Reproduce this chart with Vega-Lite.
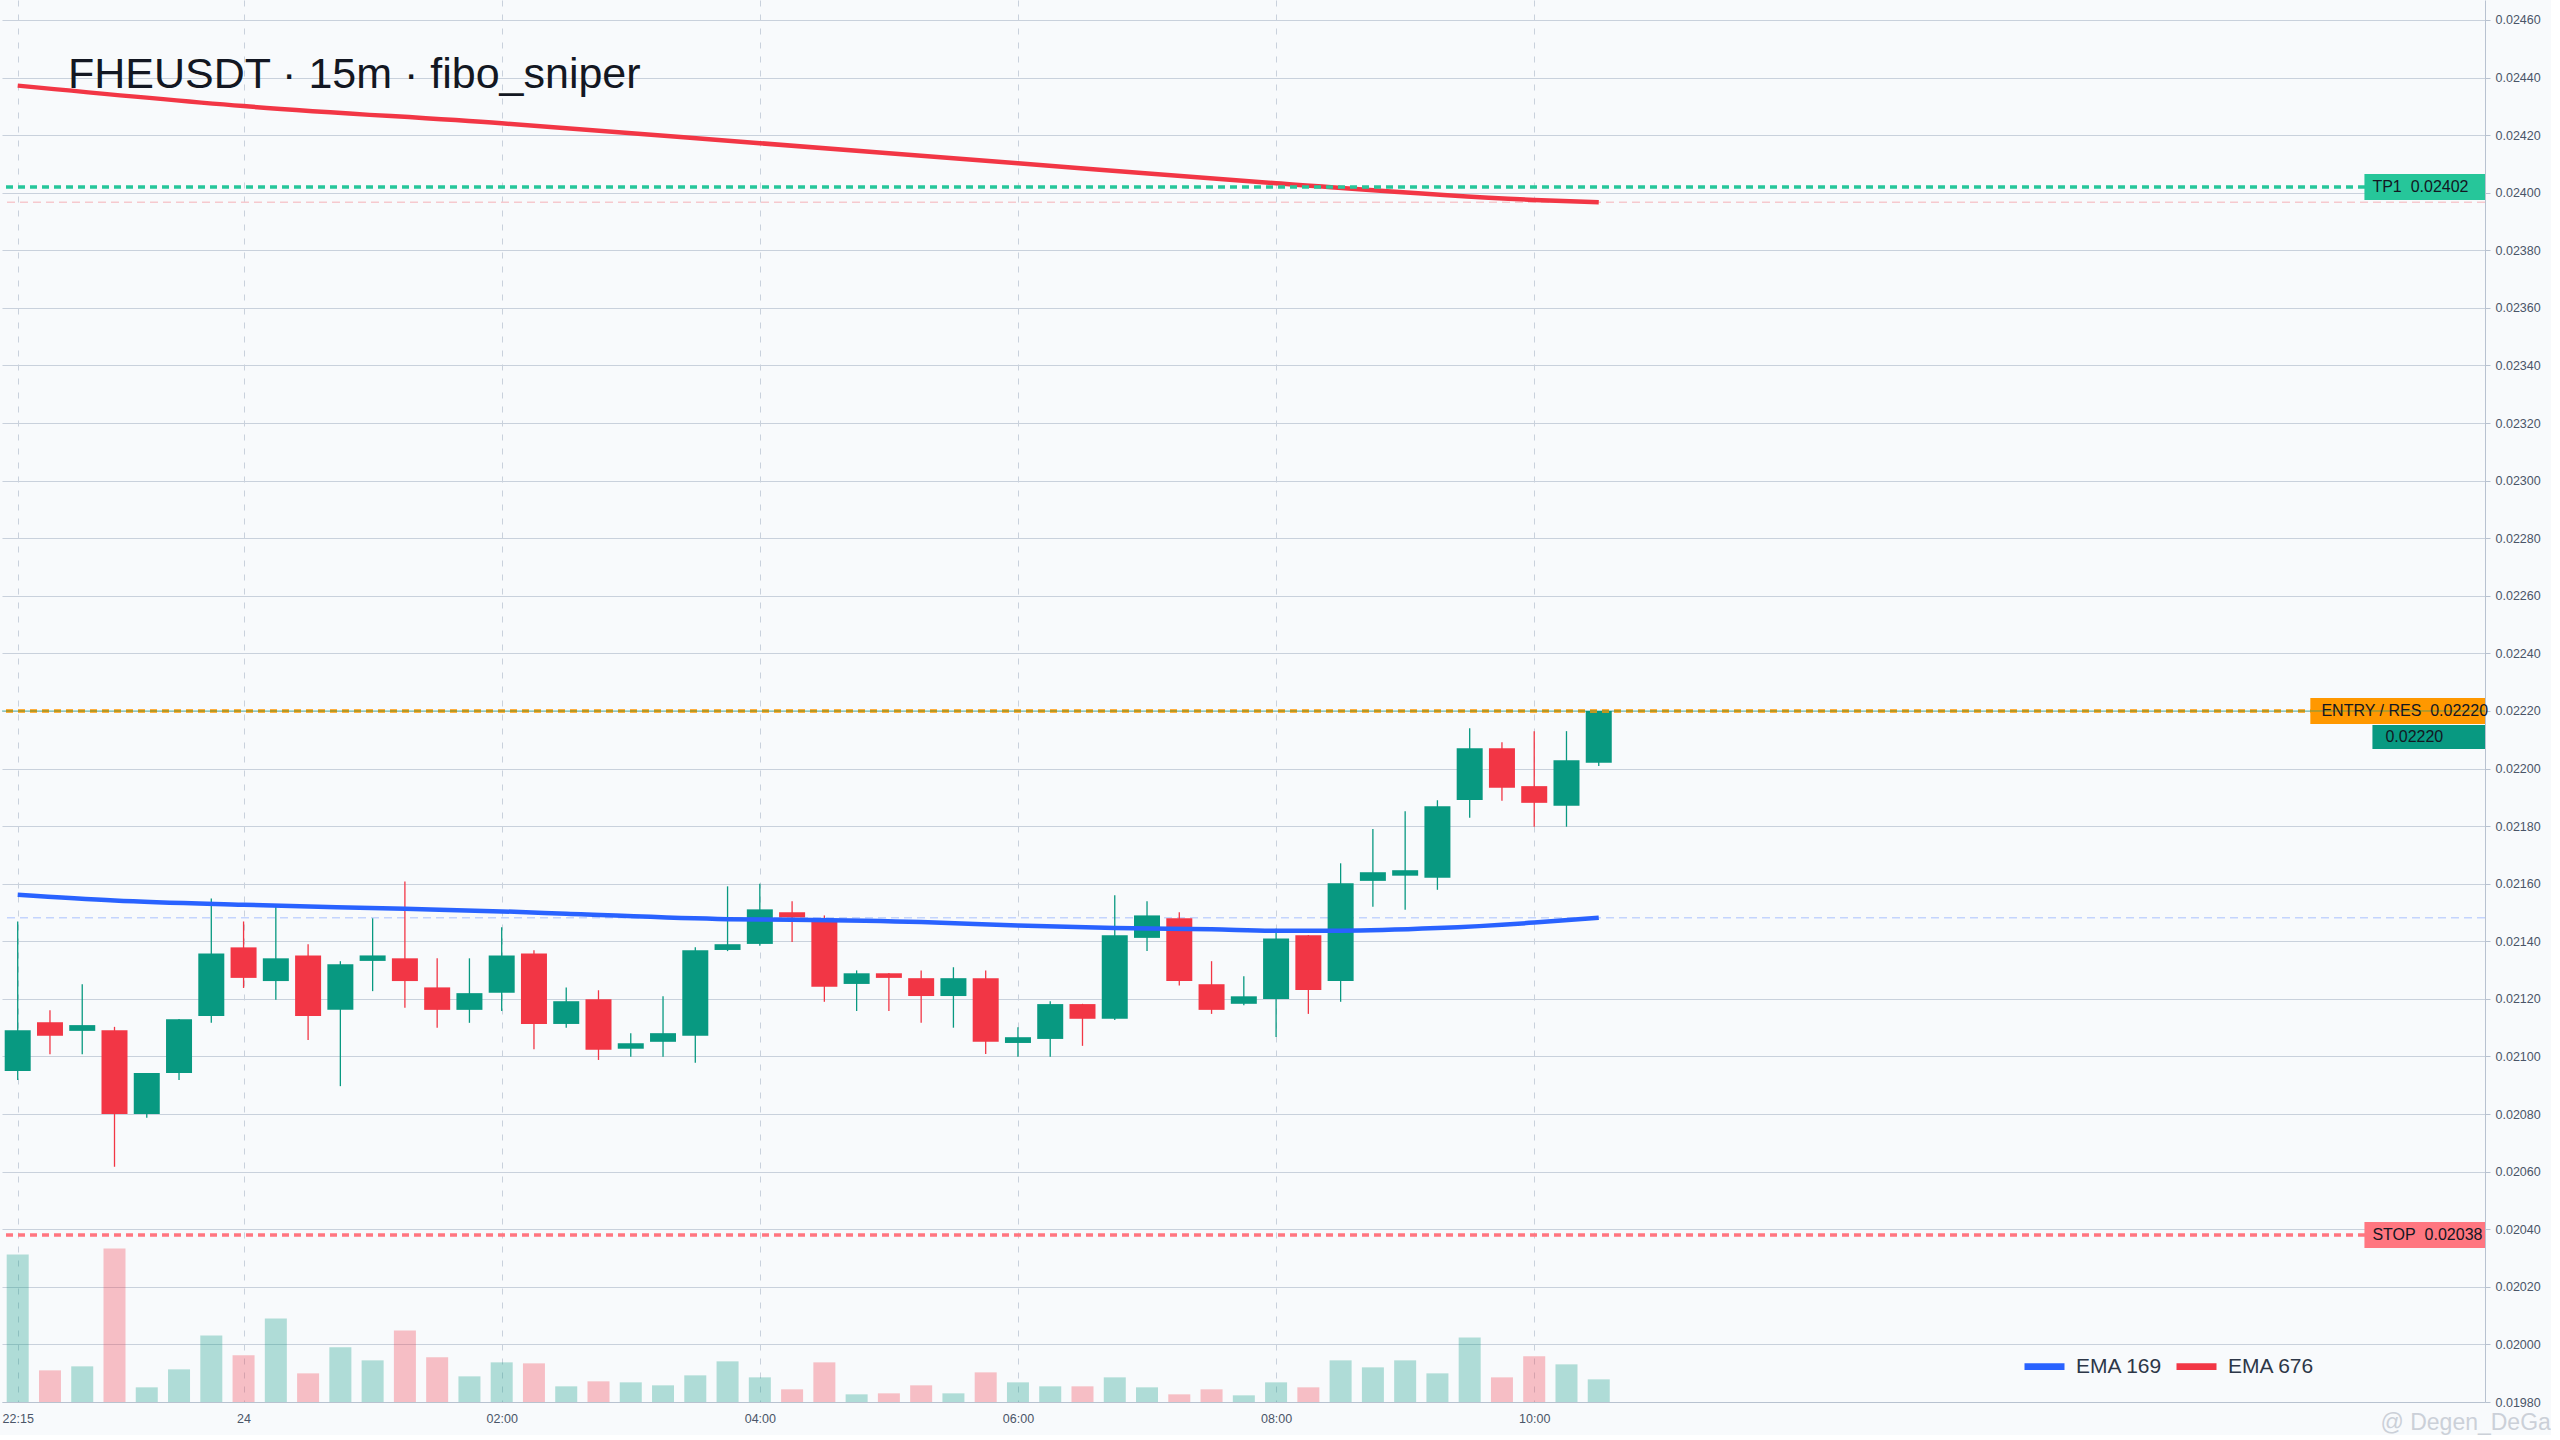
{
  "$schema": "https://vega.github.io/schema/vega-lite/v6.json",
  "width": 2483,
  "height": 1402,
  "padding": 0,
  "autosize": {"type": "pad"},
  "background": "#f8fafc",
  "config": {"view": {"stroke": null}, "font": "Liberation Sans"},
  "datasets": {
    "candles": [
      {"t": "2025-10-23T22:15:00Z", "o": 0.020950, "h": 0.021469, "l": 0.020918, "c": 0.021091, "v": 443},
      {"t": "2025-10-23T22:30:00Z", "o": 0.021119, "h": 0.021161, "l": 0.021008, "c": 0.021072, "v": 95},
      {"t": "2025-10-23T22:45:00Z", "o": 0.021089, "h": 0.021251, "l": 0.021008, "c": 0.021109, "v": 107},
      {"t": "2025-10-23T23:00:00Z", "o": 0.021091, "h": 0.021103, "l": 0.020617, "c": 0.020800, "v": 461},
      {"t": "2025-10-23T23:15:00Z", "o": 0.020800, "h": 0.020943, "l": 0.020787, "c": 0.020943, "v": 44},
      {"t": "2025-10-23T23:30:00Z", "o": 0.020943, "h": 0.021130, "l": 0.020918, "c": 0.021129, "v": 98},
      {"t": "2025-10-23T23:45:00Z", "o": 0.021141, "h": 0.021549, "l": 0.021117, "c": 0.021358, "v": 200},
      {"t": "2025-10-24T00:00:00Z", "o": 0.021379, "h": 0.021469, "l": 0.021238, "c": 0.021273, "v": 140},
      {"t": "2025-10-24T00:15:00Z", "o": 0.021262, "h": 0.021519, "l": 0.021197, "c": 0.021341, "v": 251},
      {"t": "2025-10-24T00:30:00Z", "o": 0.021351, "h": 0.021390, "l": 0.021057, "c": 0.021141, "v": 86},
      {"t": "2025-10-24T00:45:00Z", "o": 0.021162, "h": 0.021331, "l": 0.020897, "c": 0.021320, "v": 164},
      {"t": "2025-10-24T01:00:00Z", "o": 0.021332, "h": 0.021480, "l": 0.021227, "c": 0.021351, "v": 125},
      {"t": "2025-10-24T01:15:00Z", "o": 0.021341, "h": 0.021608, "l": 0.021169, "c": 0.021262, "v": 215},
      {"t": "2025-10-24T01:30:00Z", "o": 0.021240, "h": 0.021341, "l": 0.021100, "c": 0.021162, "v": 134},
      {"t": "2025-10-24T01:45:00Z", "o": 0.021162, "h": 0.021341, "l": 0.021117, "c": 0.021220, "v": 77},
      {"t": "2025-10-24T02:00:00Z", "o": 0.021221, "h": 0.021449, "l": 0.021158, "c": 0.021351, "v": 119},
      {"t": "2025-10-24T02:15:00Z", "o": 0.021358, "h": 0.021369, "l": 0.021025, "c": 0.021113, "v": 116},
      {"t": "2025-10-24T02:30:00Z", "o": 0.021113, "h": 0.021240, "l": 0.021100, "c": 0.021192, "v": 47},
      {"t": "2025-10-24T02:45:00Z", "o": 0.021199, "h": 0.021230, "l": 0.020988, "c": 0.021023, "v": 62},
      {"t": "2025-10-24T03:00:00Z", "o": 0.021027, "h": 0.021081, "l": 0.020999, "c": 0.021046, "v": 59},
      {"t": "2025-10-24T03:15:00Z", "o": 0.021051, "h": 0.021209, "l": 0.020999, "c": 0.021081, "v": 50},
      {"t": "2025-10-24T03:30:00Z", "o": 0.021072, "h": 0.021379, "l": 0.020978, "c": 0.021369, "v": 80},
      {"t": "2025-10-24T03:45:00Z", "o": 0.021370, "h": 0.021591, "l": 0.021366, "c": 0.021390, "v": 122},
      {"t": "2025-10-24T04:00:00Z", "o": 0.021391, "h": 0.021600, "l": 0.021385, "c": 0.021511, "v": 74},
      {"t": "2025-10-24T04:15:00Z", "o": 0.021501, "h": 0.021539, "l": 0.021398, "c": 0.021483, "v": 38},
      {"t": "2025-10-24T04:30:00Z", "o": 0.021473, "h": 0.021490, "l": 0.021190, "c": 0.021242, "v": 119},
      {"t": "2025-10-24T04:45:00Z", "o": 0.021252, "h": 0.021299, "l": 0.021158, "c": 0.021289, "v": 23},
      {"t": "2025-10-24T05:00:00Z", "o": 0.021289, "h": 0.021290, "l": 0.021158, "c": 0.021273, "v": 26},
      {"t": "2025-10-24T05:15:00Z", "o": 0.021272, "h": 0.021299, "l": 0.021117, "c": 0.021210, "v": 50},
      {"t": "2025-10-24T05:30:00Z", "o": 0.021210, "h": 0.021310, "l": 0.021100, "c": 0.021272, "v": 26},
      {"t": "2025-10-24T05:45:00Z", "o": 0.021272, "h": 0.021299, "l": 0.021009, "c": 0.021051, "v": 89},
      {"t": "2025-10-24T06:00:00Z", "o": 0.021047, "h": 0.021102, "l": 0.020999, "c": 0.021067, "v": 59},
      {"t": "2025-10-24T06:15:00Z", "o": 0.021061, "h": 0.021192, "l": 0.020999, "c": 0.021182, "v": 47},
      {"t": "2025-10-24T06:30:00Z", "o": 0.021182, "h": 0.021183, "l": 0.021037, "c": 0.021131, "v": 47},
      {"t": "2025-10-24T06:45:00Z", "o": 0.021131, "h": 0.021560, "l": 0.021127, "c": 0.021421, "v": 74},
      {"t": "2025-10-24T07:00:00Z", "o": 0.021412, "h": 0.021539, "l": 0.021366, "c": 0.021490, "v": 44},
      {"t": "2025-10-24T07:15:00Z", "o": 0.021480, "h": 0.021501, "l": 0.021247, "c": 0.021262, "v": 23},
      {"t": "2025-10-24T07:30:00Z", "o": 0.021251, "h": 0.021331, "l": 0.021148, "c": 0.021162, "v": 38},
      {"t": "2025-10-24T07:45:00Z", "o": 0.021183, "h": 0.021279, "l": 0.021178, "c": 0.021209, "v": 20},
      {"t": "2025-10-24T08:00:00Z", "o": 0.021200, "h": 0.021444, "l": 0.021068, "c": 0.021410, "v": 59},
      {"t": "2025-10-24T08:15:00Z", "o": 0.021421, "h": 0.021422, "l": 0.021148, "c": 0.021231, "v": 44},
      {"t": "2025-10-24T08:30:00Z", "o": 0.021262, "h": 0.021671, "l": 0.021190, "c": 0.021602, "v": 125},
      {"t": "2025-10-24T08:45:00Z", "o": 0.021610, "h": 0.021790, "l": 0.021520, "c": 0.021640, "v": 104},
      {"t": "2025-10-24T09:00:00Z", "o": 0.021628, "h": 0.021852, "l": 0.021510, "c": 0.021647, "v": 125},
      {"t": "2025-10-24T09:15:00Z", "o": 0.021621, "h": 0.021890, "l": 0.021579, "c": 0.021869, "v": 86},
      {"t": "2025-10-24T09:30:00Z", "o": 0.021891, "h": 0.022140, "l": 0.021829, "c": 0.022071, "v": 194},
      {"t": "2025-10-24T09:45:00Z", "o": 0.022071, "h": 0.022091, "l": 0.021888, "c": 0.021933, "v": 74},
      {"t": "2025-10-24T10:00:00Z", "o": 0.021939, "h": 0.022130, "l": 0.021798, "c": 0.021881, "v": 137},
      {"t": "2025-10-24T10:15:00Z", "o": 0.021871, "h": 0.022130, "l": 0.021798, "c": 0.022029, "v": 113},
      {"t": "2025-10-24T10:30:00Z", "o": 0.022020, "h": 0.022200, "l": 0.022009, "c": 0.022200, "v": 68}
    ],
    "ema": [
      {"t": "2025-10-23T22:15:00Z", "series": "EMA 169", "ema": 0.021562},
      {"t": "2025-10-23T23:00:00Z", "series": "EMA 169", "ema": 0.021542},
      {"t": "2025-10-24T00:00:00Z", "series": "EMA 169", "ema": 0.021527},
      {"t": "2025-10-24T01:15:00Z", "series": "EMA 169", "ema": 0.021513},
      {"t": "2025-10-24T02:00:00Z", "series": "EMA 169", "ema": 0.021504},
      {"t": "2025-10-24T02:30:00Z", "series": "EMA 169", "ema": 0.021496},
      {"t": "2025-10-24T03:45:00Z", "series": "EMA 169", "ema": 0.021477},
      {"t": "2025-10-24T04:15:00Z", "series": "EMA 169", "ema": 0.021475},
      {"t": "2025-10-24T05:15:00Z", "series": "EMA 169", "ema": 0.021467},
      {"t": "2025-10-24T06:00:00Z", "series": "EMA 169", "ema": 0.021455},
      {"t": "2025-10-24T06:45:00Z", "series": "EMA 169", "ema": 0.021446},
      {"t": "2025-10-24T07:30:00Z", "series": "EMA 169", "ema": 0.021442},
      {"t": "2025-10-24T08:00:00Z", "series": "EMA 169", "ema": 0.021437},
      {"t": "2025-10-24T08:30:00Z", "series": "EMA 169", "ema": 0.021437},
      {"t": "2025-10-24T09:15:00Z", "series": "EMA 169", "ema": 0.021446},
      {"t": "2025-10-24T10:00:00Z", "series": "EMA 169", "ema": 0.021465},
      {"t": "2025-10-24T10:30:00Z", "series": "EMA 169", "ema": 0.021482},
      {"t": "2025-10-23T22:15:00Z", "series": "EMA 676", "ema": 0.024372},
      {"t": "2025-10-24T00:00:00Z", "series": "EMA 676", "ema": 0.024301},
      {"t": "2025-10-24T02:00:00Z", "series": "EMA 676", "ema": 0.024241},
      {"t": "2025-10-24T04:00:00Z", "series": "EMA 676", "ema": 0.024172},
      {"t": "2025-10-24T06:00:00Z", "series": "EMA 676", "ema": 0.024102},
      {"t": "2025-10-24T08:00:00Z", "series": "EMA 676", "ema": 0.024033},
      {"t": "2025-10-24T10:00:00Z", "series": "EMA 676", "ema": 0.023975},
      {"t": "2025-10-24T10:30:00Z", "series": "EMA 676", "ema": 0.023967}
    ],
    "levels": [
      {"level": "TP1", "price": 0.02402, "label": "TP1\u00a0\u00a00.02402"},
      {"level": "ENTRY / RES", "price": 0.02220, "label": "ENTRY / RES\u00a0\u00a00.02220"},
      {"level": "STOP", "price": 0.02038, "label": "STOP\u00a0\u00a00.02038"},
      {"level": "LAST", "price": 0.02220, "label": "0.02220"}
    ]
  },
  "layer": [
    {
      "data": {"name": "candles"},
      "mark": {"type": "bar", "width": 22, "opacity": 0.3, "orient": "vertical"},
      "encoding": {
        "x": {
          "field": "t", "type": "temporal",
          "scale": {
            "type": "utc", "nice": false, "padding": 0,
            "domain": [
              {"year": 2025, "month": 10, "date": 23, "hours": 22, "minutes": 7, "seconds": 42, "utc": true},
              {"year": 2025, "month": 10, "date": 24, "hours": 17, "minutes": 22, "seconds": 0, "utc": true}
            ]
          },
          "axis": {
            "title": null,
            "values": [
              {"year": 2025, "month": 10, "date": 23, "hours": 22, "minutes": 15, "utc": true},
              {"year": 2025, "month": 10, "date": 24, "hours": 0, "minutes": 0, "utc": true},
              {"year": 2025, "month": 10, "date": 24, "hours": 2, "minutes": 0, "utc": true},
              {"year": 2025, "month": 10, "date": 24, "hours": 4, "minutes": 0, "utc": true},
              {"year": 2025, "month": 10, "date": 24, "hours": 6, "minutes": 0, "utc": true},
              {"year": 2025, "month": 10, "date": 24, "hours": 8, "minutes": 0, "utc": true},
              {"year": 2025, "month": 10, "date": 24, "hours": 10, "minutes": 0, "utc": true}
            ],
            "labelExpr": "utcFormat(datum.value, '%H:%M') == '00:00' ? utcFormat(datum.value, '%d') : utcFormat(datum.value, '%H:%M')",
            "grid": true, "gridColor": "#c9d1dc", "gridDash": [6, 8], "gridWidth": 1,
            "domainColor": "#b8c2d0", "ticks": false, "tickSize": 0,
            "labelPadding": 10, "labelFontSize": 12.5, "labelColor": "#4a5568",
            "labelFlush": false, "labelOverlap": false
          }
        },
        "y": {"field": "v", "type": "quantitative", "scale": {"domain": [0, 4209], "padding": 0}, "axis": null},
        "color": {"condition": {"test": "datum.c >= datum.o", "value": "#089981"}, "value": "#f23645"}
      }
    },
    {
      "layer": [
        {
          "data": {"name": "ema"},
          "transform": [
            {"window": [{"op": "last_value", "field": "ema", "as": "last"}], "groupby": ["series"], "frame": [null, null]},
            {"aggregate": [{"op": "max", "field": "last", "as": "last"}], "groupby": ["series"]}
          ],
          "mark": {"type": "rule", "strokeWidth": 1.5, "strokeDash": [8, 5]},
          "encoding": {
            "y": {
              "field": "last", "type": "quantitative",
              "scale": {"domain": [0.0198, 0.0246694], "nice": false, "zero": false, "padding": 0},
              "axis": {
                "orient": "right", "title": null,
                "values": [0.0198, 0.02, 0.0202, 0.0204, 0.0206, 0.0208, 0.021, 0.0212, 0.0214, 0.0216, 0.0218, 0.022, 0.0222, 0.0224, 0.0226, 0.0228, 0.023, 0.0232, 0.0234, 0.0236, 0.0238, 0.024, 0.0242, 0.0244, 0.0246],
                "format": ".5f",
                "grid": true, "gridColor": "#c9d1dc", "gridWidth": 1,
                "domainColor": "#b8c2d0", "tickColor": "#b8c2d0", "tickSize": 5,
                "labelPadding": 5, "labelFontSize": 12.5, "labelColor": "#4a5568",
                "labelFlush": false, "labelOverlap": false
              }
            },
            "color": {"condition": {"test": "datum.series == 'EMA 169'", "value": "#c4d4fd"}, "value": "#f6c9ce"}
          }
        },
        {
          "data": {"name": "candles"},
          "mark": {"type": "rule", "strokeWidth": 1.3},
          "encoding": {
            "x": {"field": "t", "type": "temporal"},
            "y": {"field": "l", "type": "quantitative"},
            "y2": {"field": "h"},
            "color": {"condition": {"test": "datum.c >= datum.o", "value": "#089981"}, "value": "#f23645"}
          }
        },
        {
          "data": {"name": "candles"},
          "mark": {"type": "bar", "width": 26, "orient": "vertical"},
          "encoding": {
            "x": {"field": "t", "type": "temporal"},
            "y": {"field": "o", "type": "quantitative"},
            "y2": {"field": "c"},
            "color": {"condition": {"test": "datum.c >= datum.o", "value": "#089981"}, "value": "#f23645"}
          }
        },
        {
          "data": {"name": "ema"},
          "mark": {"type": "line", "strokeWidth": 4.5, "interpolate": "monotone"},
          "encoding": {
            "x": {"field": "t", "type": "temporal"},
            "y": {"field": "ema", "type": "quantitative"},
            "color": {
              "field": "series", "type": "nominal",
              "scale": {"domain": ["EMA 169", "EMA 676"], "range": ["#2962ff", "#f23645"]},
              "legend": {
                "orient": "none", "legendX": 2019, "legendY": 1343, "direction": "horizontal",
                "title": null, "symbolType": "stroke", "symbolStrokeWidth": 6.6, "symbolSize": 1600,
                "labelFontSize": 21, "labelColor": "#2d3748", "labelOffset": 8,
                "columnPadding": 0, "padding": 0
              }
            }
          }
        },
        {
          "data": {"name": "levels"},
          "transform": [{"filter": "datum.level != 'LAST'"}],
          "mark": {"type": "rule", "strokeWidth": 3.5, "strokeDash": [7, 5]},
          "encoding": {
            "y": {"field": "price", "type": "quantitative"},
            "color": {
              "condition": [
                {"test": "datum.level == 'TP1'", "value": "#26c69a"},
                {"test": "datum.level == 'STOP'", "value": "#ff7680"}
              ],
              "value": "#ff9800"
            }
          }
        },
        {
          "data": {"name": "levels"},
          "transform": [{"filter": "datum.level == 'TP1' || datum.level == 'STOP'"}],
          "mark": {"type": "bar", "orient": "horizontal", "height": 26},
          "encoding": {
            "x": {"datum": {"year": 2025, "month": 10, "date": 24, "hours": 16, "minutes": 25, "seconds": 57, "utc": true}, "type": "temporal"},
            "x2": {"datum": {"year": 2025, "month": 10, "date": 24, "hours": 17, "minutes": 22, "seconds": 0, "utc": true}},
            "y": {"field": "price", "type": "quantitative"},
            "color": {"condition": {"test": "datum.level == 'TP1'", "value": "#26c69a"}, "value": "#ff7680"}
          }
        },
        {
          "data": {"name": "levels"},
          "transform": [{"filter": "datum.level == 'ENTRY / RES'"}],
          "mark": {"type": "bar", "orient": "horizontal", "height": 26, "color": "#ff9800"},
          "encoding": {
            "x": {"datum": {"year": 2025, "month": 10, "date": 24, "hours": 16, "minutes": 0, "seconds": 48, "utc": true}, "type": "temporal"},
            "x2": {"datum": {"year": 2025, "month": 10, "date": 24, "hours": 17, "minutes": 22, "seconds": 0, "utc": true}},
            "y": {"field": "price", "type": "quantitative"}
          }
        },
        {
          "data": {"name": "levels"},
          "transform": [{"filter": "datum.level == 'LAST'"}],
          "mark": {"type": "bar", "orient": "horizontal", "height": 24, "yOffset": 26, "color": "#089981"},
          "encoding": {
            "x": {"datum": {"year": 2025, "month": 10, "date": 24, "hours": 16, "minutes": 29, "seconds": 40, "utc": true}, "type": "temporal"},
            "x2": {"datum": {"year": 2025, "month": 10, "date": 24, "hours": 17, "minutes": 22, "seconds": 0, "utc": true}},
            "y": {"field": "price", "type": "quantitative"}
          }
        },
        {
          "data": {"name": "levels"},
          "transform": [{"filter": "datum.level == 'LAST'"}],
          "mark": {"type": "rule", "strokeWidth": 1, "color": "#089981", "opacity": 0.6},
          "encoding": {
            "y": {"field": "price", "type": "quantitative"}
          }
        },
        {
          "data": {"name": "levels"},
          "transform": [{"filter": "datum.level == 'TP1' || datum.level == 'STOP'"}],
          "mark": {"type": "text", "align": "left", "baseline": "middle", "fontSize": 16, "color": "#131722"},
          "encoding": {
            "x": {"datum": {"year": 2025, "month": 10, "date": 24, "hours": 16, "minutes": 29, "seconds": 40, "utc": true}, "type": "temporal"},
            "y": {"field": "price", "type": "quantitative"},
            "text": {"field": "label"}
          }
        },
        {
          "data": {"name": "levels"},
          "transform": [{"filter": "datum.level == 'ENTRY / RES'"}],
          "mark": {"type": "text", "align": "left", "baseline": "middle", "fontSize": 16, "color": "#131722"},
          "encoding": {
            "x": {"datum": {"year": 2025, "month": 10, "date": 24, "hours": 16, "minutes": 5, "seconds": 58, "utc": true}, "type": "temporal"},
            "y": {"field": "price", "type": "quantitative"},
            "text": {"field": "label"}
          }
        },
        {
          "data": {"name": "levels"},
          "transform": [{"filter": "datum.level == 'LAST'"}],
          "mark": {"type": "text", "align": "left", "baseline": "middle", "fontSize": 16, "color": "#131722", "yOffset": 26},
          "encoding": {
            "x": {"datum": {"year": 2025, "month": 10, "date": 24, "hours": 16, "minutes": 35, "seconds": 42, "utc": true}, "type": "temporal"},
            "y": {"field": "price", "type": "quantitative"},
            "text": {"field": "label"}
          }
        },
        {
          "data": {"values": [{"title": "FHEUSDT · 15m · fibo_sniper"}]},
          "mark": {"type": "text", "align": "left", "baseline": "alphabetic", "fontSize": 43, "color": "#131722"},
          "encoding": {
            "x": {"datum": {"year": 2025, "month": 10, "date": 23, "hours": 22, "minutes": 38, "seconds": 20, "utc": true}, "type": "temporal"},
            "y": {"datum": 0.024364, "type": "quantitative"},
            "text": {"field": "title"}
          }
        },
        {
          "data": {"values": [{"mark": "@ Degen_DeGa"}]},
          "mark": {"type": "text", "align": "left", "baseline": "alphabetic", "fontSize": 23, "color": "#cbd0d8", "yOffset": 28},
          "encoding": {
            "x": {"datum": {"year": 2025, "month": 10, "date": 24, "hours": 16, "minutes": 33, "seconds": 24, "utc": true}, "type": "temporal"},
            "y": {"datum": 0.0198, "type": "quantitative"},
            "text": {"field": "mark"}
          }
        }
      ]
    }
  ],
  "resolve": {"scale": {"y": "independent"}}
}
